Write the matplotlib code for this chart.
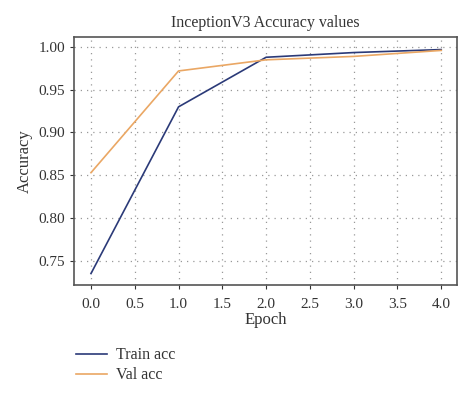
import matplotlib
matplotlib.use("Agg")
from matplotlib import pyplot as plt

epochs = [0, 1, 2, 3, 4]
train_acc = [0.735, 0.930, 0.988, 0.9935, 0.997]
val_acc = [0.853, 0.972, 0.985, 0.989, 0.996]

plt.rcParams['font.family'] = ['Liberation Serif', 'DejaVu Serif']

fig = plt.figure(figsize=(4.74, 3.93), dpi=100)
ax = fig.add_axes([74 / 474, 1 - 285 / 393, 383 / 474, 248 / 393])

train_line, = ax.plot(epochs, train_acc, color='#2b3a78', lw=1.2, label='Train acc')
val_line, = ax.plot(epochs, val_acc, color='#eaa764', lw=1.2, label='Val acc')

ax.set_xlim(-0.194, 4.18)
ax.set_ylim(0.7216, 1.0117)
ax.set_xticks([0, 0.5, 1, 1.5, 2, 2.5, 3, 3.5, 4])
ax.set_yticks([0.75, 0.80, 0.85, 0.90, 0.95, 1.00])
ax.grid(True, linestyle=(0, (1, 4)), color='#999999', lw=0.9)
ax.tick_params(labelsize=11, colors='#333333', length=3, width=0.8)
ax.tick_params(axis='x', pad=6)
for s in ax.spines.values():
    s.set_color('#555555')
    s.set_linewidth(1.2)

ax.set_title('InceptionV3 Accuracy values', fontsize=11.5, color='#333333', pad=7)
ax.set_xlabel('Epoch', fontsize=12, color='#333333', labelpad=1)
ax.set_ylabel('Accuracy', fontsize=12, color='#333333', labelpad=4)

fig.legend(handles=[train_line, val_line], loc='upper left',
           bbox_to_anchor=(62 / 474, 1 - 333 / 393), frameon=False,
           fontsize=11.5, handlelength=1.9, handletextpad=0.6, labelspacing=0.25,
           labelcolor='#333333')

fig.savefig('out.png', dpi=100)
